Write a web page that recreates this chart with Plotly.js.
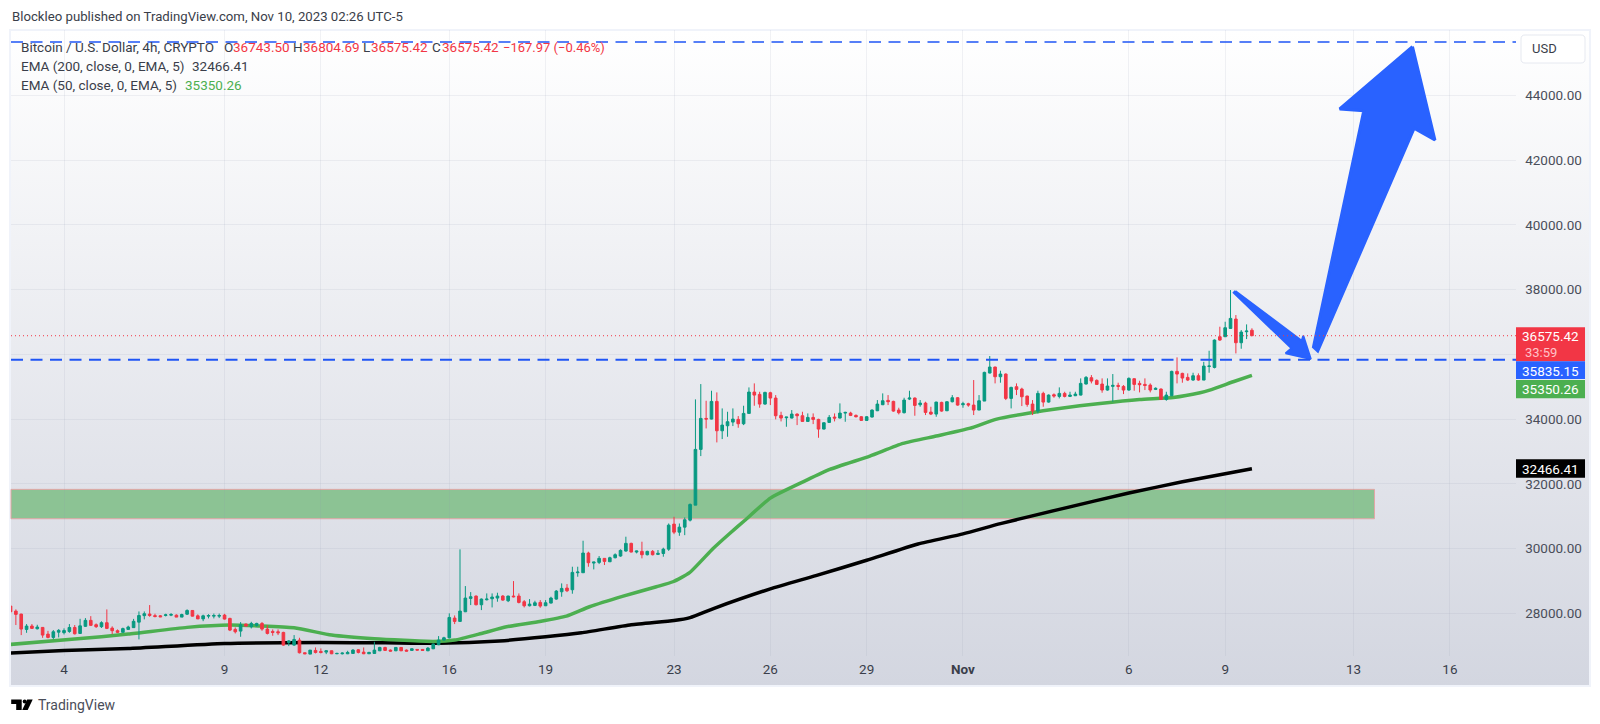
<!DOCTYPE html>
<html><head><meta charset="utf-8">
<script src="https://cdn.plot.ly/plotly-3.0.1.min.js"></script>
<style>
html,body{margin:0;padding:0;background:#fff;width:1600px;height:724px;overflow:hidden}
#bg{position:absolute;left:9px;top:29px;width:1578px;height:654px;border:2px solid #f0f3fa;background:linear-gradient(#ffffff 0%,#d3d6e0 100%)}
#chart{position:absolute;left:0;top:0;width:1600px;height:724px}
</style></head><body>
<div id="bg"></div><div id="chart"></div>
<script>
// Bars are 4h candles; the axis is bar-number based (bar 0 = 4 Oct 00:00), as TradingView's time scale is.
const firstBar = -10;
const opens = [28226,28071,27978,27505,27610,27525,27567,27360,27258,27420,
27405,27442,27565,27380,27600,27785,27650,27590,27712,27545,
27465,27415,27505,27560,27730,27930,27980,27930,27925,27935,
27945,27945,27885,27975,28090,27925,27830,27915,27915,27915,
27947,27845,27505,27453,27670,27587,27628,27690,27515,27443,
27432,27412,27100,27020,27175,26784,26742,26856,26825,26804,
26845,26753,26753,26753,26763,26876,26804,26753,26763,26845,
26948,26866,26845,26948,26866,26856,26887,26887,26845,26907,
27030,27175,27247,27855,27752,28050,28462,28534,28267,28421,
28452,28473,28535,28390,28535,28535,28360,28236,28246,28339,
28236,28318,28442,28668,28782,28730,29256,29256,29863,29554,
29575,29699,29595,29719,29771,29925,30162,29894,29915,29812,
29915,29822,29850,29984,30757,30509,30664,30880,31343,33064,
34021,34001,34547,33640,33795,33908,33991,33857,34176,34835,
34763,34464,34815,34650,34114,34042,34032,34155,34104,33929,
34052,33991,33692,33898,34063,34032,34186,34186,34114,34073,
33960,34063,34258,34444,34578,34547,34279,34197,34619,34650,
34444,34495,34217,34155,34516,34258,34537,34660,34444,34475,
34433,34279,34557,35422,35608,35309,35391,34640,35000,34928,
34712,34464,34248,34794,34526,34753,34701,34794,34701,34722,
34742,35083,35278,35196,35083,34897,35011,35041,35010,34897,
35247,35103,35072,35051,34918,34928,34609,34722,35474,35412,
35288,35206,35340,35205,35628,35596,36544,36544,36801,37090,
36359,36699,36743.5];
const highs = [28587,28124,27990,27670,27670,27648,27575,27460,27485,27515,
27537,27670,27640,27833,27855,27915,27690,27755,28123,27600,
27505,27560,27620,27830,28060,28060,28257,27990,27950,27990,
28010,27970,27990,28125,28105,27970,27960,27975,27995,27995,
27985,27865,27566,27731,27690,27740,27710,27731,27638,27505,
27505,27432,27175,27330,27247,26790,26866,26948,26918,26866,
26850,26785,26795,26845,26897,26897,26948,26815,27123,26968,
26968,26887,26958,26958,26887,26918,26897,26897,26958,27070,
27299,27278,28000,27937,29977,28844,28658,28555,28462,28617,
28617,28638,28565,28545,28998,28617,28411,28442,28390,28411,
28411,28514,28720,28926,28905,29441,29441,30244,29905,29585,
29771,29699,29750,29853,29977,30368,30183,29935,30213,29935,
29956,29956,30028,30777,30983,30777,30962,31395,34609,35082,
34567,34876,34825,34330,34227,34330,34094,34413,34979,35103,
34845,34845,34845,34742,34227,34063,34279,34176,34227,34176,
34176,34011,33898,34125,34176,34485,34227,34227,34145,34094,
34094,34300,34588,34794,34742,34568,34351,34660,34876,34670,
34588,34537,34382,34537,34537,34547,34742,34681,34536,34505,
35206,34742,35464,35948,35618,35494,35412,35000,35103,34969,
34722,34588,34877,34846,34763,34794,34980,34845,34845,34845,
35258,35330,35360,35227,35258,35258,35392,35124,35051,35288,
35258,35185,35258,35103,34980,34948,34845,35495,35906,35432,
35412,35432,35412,35770,36111,36461,36853,37007,37986,37213,
36750,36925,36804.69];
const lows = [28030,27640,27330,27400,27520,27505,27245,27230,27205,27258,
27350,27400,27350,27370,27580,27610,27550,27550,27515,27360,
27390,27405,27490,27550,27197,27815,27895,27875,27885,27905,
27915,27885,27885,27950,27905,27825,27760,27845,27845,27855,
27810,27453,27380,27278,27590,27535,27590,27463,27350,27309,
27330,27000,26990,27000,26763,26743,26742,26763,26763,26742,
26742,26742,26732,26742,26763,26763,26742,26753,26763,26835,
26845,26825,26835,26835,26825,26845,26856,26845,26835,26897,
27020,27155,27226,27670,27752,28040,28257,28246,28102,28400,
28184,28360,28390,28349,28493,28308,28184,28215,28226,28174,
28226,28308,28421,28514,28658,28607,29132,29256,29441,29359,
29523,29493,29585,29699,29750,29905,29884,29853,29699,29791,
29791,29801,29750,29930,30447,30396,30416,30839,31343,32858,
33712,33990,33280,33383,33455,33785,33733,33815,34176,34413,
34351,34444,34433,33991,33929,33764,34021,33815,33919,33919,
33846,33424,33682,33888,33929,34021,33918,34094,34052,33950,
33950,34052,34248,34433,34433,34227,34145,34176,34588,34104,
34382,34125,34125,34073,34227,34248,34516,34413,34351,34382,
34125,34279,34557,35412,35103,35124,34588,34330,34742,34403,
34382,34125,34176,34382,34506,34660,34640,34670,34681,34712,
34732,35072,35103,35062,34815,34877,34537,34897,34773,34877,
34877,34825,34897,34825,34897,34588,34567,34712,35103,35124,
35175,35185,35185,35205,35432,35566,36420,36544,36790,36029,
36173,36472,36575.42];
const closes = [28049,27969,27515,27608,27537,27577,27330,27258,27432,27475,
27470,27565,27370,27615,27785,27630,27590,27712,27537,27465,
27415,27530,27580,27755,27935,27990,27935,27905,27895,27955,
27965,27885,27965,28090,27915,27830,27925,27935,27935,27935,
27824,27484,27432,27650,27608,27690,27690,27515,27381,27412,
27402,27020,27150,27195,26784,26753,26866,26794,26794,26845,
26753,26763,26773,26794,26866,26794,26753,26794,26866,26948,
26856,26835,26948,26845,26835,26907,26866,26856,26928,27050,
27175,27247,27875,27752,28071,28473,28514,28267,28442,28442,
28504,28535,28411,28535,28514,28339,28236,28287,28328,28226,
28328,28473,28689,28771,28699,29266,29276,29863,29565,29585,
29699,29606,29719,29812,29946,30162,29894,29925,29812,29915,
29812,29853,29984,30725,30509,30664,30890,31364,33064,34021,
34001,34547,33640,33815,33919,34001,33857,34176,34835,34742,
34464,34825,34650,34104,34032,34063,34155,34104,33929,34052,
33991,33692,33888,34052,34032,34186,34207,34114,34073,33960,
34073,34279,34464,34567,34537,34248,34197,34588,34650,34423,
34495,34207,34155,34526,34248,34537,34660,34433,34475,34433,
34279,34567,35443,35608,35309,35391,34640,34979,34918,34691,
34454,34248,34794,34526,34742,34712,34794,34701,34742,34773,
35103,35288,35175,35072,34897,35021,35041,35011,34897,35258,
35072,35062,35041,34897,34949,34609,34742,35474,35391,35268,
35206,35340,35206,35638,35638,36441,36441,36822,37110,36359,
36688,36719,36575.42];

const ema200Bars = [-10,0,12,30,48,60,70,81.4,90,96.7,106,114,117,121.5,132,140.5,150,159.6,168,175,186,199,209,222];
const ema200Vals = [26773,26850,26913,27070,27100,27090,27075,27150,27276,27400,27650,27780,27870,28157,28756,29165,29640,30142,30457,30772,31213,31717,32063,32466.41];
const ema50Bars = [-10,2,12,23,31,43,50,58,69,73,78,82.7,88.9,93.9,98.2,104.5,110.7,113.8,116.9,121.3,124.4,127.2,132,138.6,143.1,150.6,156.8,163,169.2,174.3,179.9,186,193.6,201,207.3,212.3,214.1,218.5,222];
const ema50Vals = [27042,27206,27360,27568,27640,27555,27330,27215,27135,27175,27380,27587,27752,27917,28205,28534,28823,28977,29256,30004,30468,30870,31560,32100,32446,32858,33249,33476,33712,34001,34176,34330,34485,34609,34670,34815,34896,35153,35350.26];

const bigArrowBars = [252,256.2,252.3,234.3,233.5,242.9,238.4,252];
const bigArrowVals = [45501,42620,42981,36102,36226,43524,43577,45501];
const smallArrowBars = [218.9,231.3,231.6,233,228.3,229.4,218.6,218.9];
const smallArrowVals = [37955,36420,36575,35855,36031,36186,37903,37955];

const tickBars = [0,30,48,72,90,114,132,150,168,199,217,241,259];
const tickLabels = ['4','9','12','16','19','23','26','29','<b>Nov</b>','6','9','13','16'];
const priceTicks = [28000,30000,32000,34000,36000,38000,40000,42000,44000];
// the 36000 label sits behind the last-price tag in the reference, so it is not visible there
const priceLabels = ['28000.00','30000.00','32000.00','34000.00','','38000.00','40000.00','42000.00','44000.00'];
const lastPrice = 36575.42, supportLevel = 35835.15, targetLevel = 45645;
const zoneLow = 30923, zoneHigh = 31830, zoneEndBar = 244.9;

const bars = opens.map((_, k) => k + firstBar);
const W = 1600, H = 724, L = 11.3, R = 1516, T = 30, B = 656;
const px = x => (x - L) / (R - L), py = y => 1 - (y - T) / (B - T);
const UI = 'Roboto, sans-serif';
const xRange = [-9.91, 271.35], yRange = [26684, 46017];

const traces = [
 {type:'scatter',mode:'lines',x:ema200Bars,y:ema200Vals,line:{color:'#000000',width:3.5,shape:'spline',smoothing:0.5},hoverinfo:'skip',showlegend:false},
 {type:'scatter',mode:'lines',x:ema50Bars,y:ema50Vals,line:{color:'#4caf50',width:3.5,shape:'spline',smoothing:0.5},hoverinfo:'skip',showlegend:false},
 {type:'candlestick',x:bars,open:opens,high:highs,low:lows,close:closes,yaxis:'y2',whiskerwidth:0,
  increasing:{line:{color:'#089981',width:1},fillcolor:'#089981'},
  decreasing:{line:{color:'#f23645',width:1},fillcolor:'#f23645'},hoverinfo:'skip',showlegend:false},
 {type:'scatter',mode:'lines',x:smallArrowBars,y:smallArrowVals,yaxis:'y2',fill:'toself',fillcolor:'#2962ff',line:{color:'#2962ff',width:2},hoverinfo:'skip',showlegend:false},
 {type:'scatter',mode:'lines',x:bigArrowBars,y:bigArrowVals,yaxis:'y2',fill:'toself',fillcolor:'#2962ff',line:{color:'#2962ff',width:3},hoverinfo:'skip',showlegend:false}
];

function label(t,x,y,o={}){return {text:t,xref:'paper',yref:'paper',x:px(x),y:py(y),xanchor:o.anchor||'left',yanchor:'middle',align:o.align||'center',showarrow:false,borderpad:0,
  font:{family:UI,size:o.size||13.5,color:o.color||'#3a3e4a'}};}
const annotations = [
 label('Blockleo published on TradingView.com, Nov 10, 2023 02:26 UTC-5',11,16,{size:13.2}),
 label('Bitcoin / U.S. Dollar, 4h, CRYPTO',20.4,47.5),
 label('O',223,47.5),label('36743.50',232.5,47.5,{color:'#f23645'}),
 label('H',292,47.5),label('36804.69',302,47.5,{color:'#f23645'}),
 label('L',362,47.5),label('36575.42',370.5,47.5,{color:'#f23645'}),
 label('C',431,47.5),label('36575.42',441,47.5,{color:'#f23645'}),
 label('−167.97 (−0.46%)',502,47.5,{size:13,color:'#f23645'}),
 label('EMA (200, close, 0, EMA, 5)',20.4,65.5),label('32466.41',191,65.5),
 label('EMA (50, close, 0, EMA, 5)',20.4,84.5),label('35350.26',184,84.5,{color:'#4caf50'}),
 label('USD',1531,48.5,{size:13}),
 label('36575.42',1550.5,335.8,{anchor:'center',size:13.5,color:'#fff'}),
 label('33:59',1541,352.8,{anchor:'center',size:13,color:'#ffc2c8'}),
 label('35835.15',1550.5,370.5,{anchor:'center',size:13.5,color:'#fff'}),
 label('35350.26',1550.5,389,{anchor:'center',color:'#fff'}),
 label('32466.41',1550.5,468.8,{anchor:'center',color:'#fff'}),
 label('TradingView',37,705,{size:14,color:'#4a4e5a'})
];
function tag(y0,y1,c){return {type:'rect',xref:'paper',yref:'paper',x0:px(1516),x1:px(1585),y0:py(y0),y1:py(y1),fillcolor:c,line:{width:0},layer:'above'};}
function poly(pts){return {type:'path',xref:'paper',yref:'paper',path:'M'+pts.map(p=>px(p[0])+','+py(p[1])).join('L')+'Z',fillcolor:'#000',line:{width:0},layer:'above'};}
const dashed = (v,w) => ({type:'line',xref:'paper',yref:'y',x0:0,x1:1,y0:v,y1:v,line:{color:'#1f55f5',width:w,dash:'12px,7.5px'},layer:'above'});
const shapes = [
 {type:'rect',xref:'paper',yref:'y',x0:0,x1:px(64.3+zoneEndBar*5.35),y0:zoneLow,y1:zoneHigh,fillcolor:'#8cc394',line:{color:'#e2a6a6',width:1},layer:'below'},
 dashed(targetLevel,1.5),dashed(supportLevel,2),
 {type:'line',xref:'paper',yref:'y',x0:0,x1:1,y0:lastPrice,y1:lastPrice,line:{color:'#f23645',width:1,dash:'1px,3px'},layer:'above'},
 tag(327.3,361.3,'#f23645'),tag(361.3,379,'#2962ff'),tag(380,398.3,'#4caf50'),tag(459.3,477.7,'#000000'),
 {type:'path',xref:'paper',yref:'paper',layer:'above',fillcolor:'#ffffff',line:{color:'#e6e9f0',width:1},
  path:`M${px(1525)},${py(35)}L${px(1581)},${py(35)}Q${px(1585)},${py(35)} ${px(1585)},${py(39)}L${px(1585)},${py(59)}Q${px(1585)},${py(63)} ${px(1581)},${py(63)}L${px(1525)},${py(63)}Q${px(1521)},${py(63)} ${px(1521)},${py(59)}L${px(1521)},${py(39)}Q${px(1521)},${py(35)} ${px(1525)},${py(35)}Z`},
 poly([[11.5,699.5],[22,699.5],[22,710],[16.5,710],[16.5,704],[11.5,704]]),
 {type:'circle',xref:'paper',yref:'paper',x0:px(23),x1:px(27),y0:py(699.5),y1:py(703.5),fillcolor:'#000',line:{width:0},layer:'above'},
 poly([[27.5,699.5],[33,699.5],[28,710],[22.5,710]])
];
const grid = 'rgba(150,155,175,0.13)';
const layout = {
 width:W,height:H,autosize:false,margin:{l:L,r:W-R,t:T,b:H-B,pad:0},
 paper_bgcolor:'rgba(0,0,0,0)',plot_bgcolor:'rgba(0,0,0,0)',showlegend:false,boxgap:0.3,dragmode:false,
 font:{family:UI,size:13.5,color:'#4a4e5a'},
 xaxis:{type:'linear',range:xRange,tickmode:'array',tickvals:tickBars,ticktext:tickLabels,showgrid:true,gridcolor:grid,gridwidth:1,zeroline:false,showline:false,
   rangeslider:{visible:false},ticks:'outside',ticklen:1,tickcolor:'rgba(0,0,0,0)',tickfont:{family:UI,size:13.5,color:'#3a3e4a'}},
 yaxis:{type:'linear',side:'right',range:yRange,tickmode:'array',tickvals:priceTicks,ticktext:priceLabels,showgrid:true,gridcolor:grid,gridwidth:1,zeroline:false,showline:false,
   ticks:'outside',ticklen:5.5,tickcolor:'rgba(0,0,0,0)',tickfont:{family:UI,size:13.5,color:'#4a4e5a'}},
 yaxis2:{overlaying:'y',side:'right',range:yRange,visible:false,showgrid:false,zeroline:false},
 shapes,annotations
};
Plotly.newPlot('chart',traces,layout,{staticPlot:true,displayModeBar:false});
</script></body></html>
